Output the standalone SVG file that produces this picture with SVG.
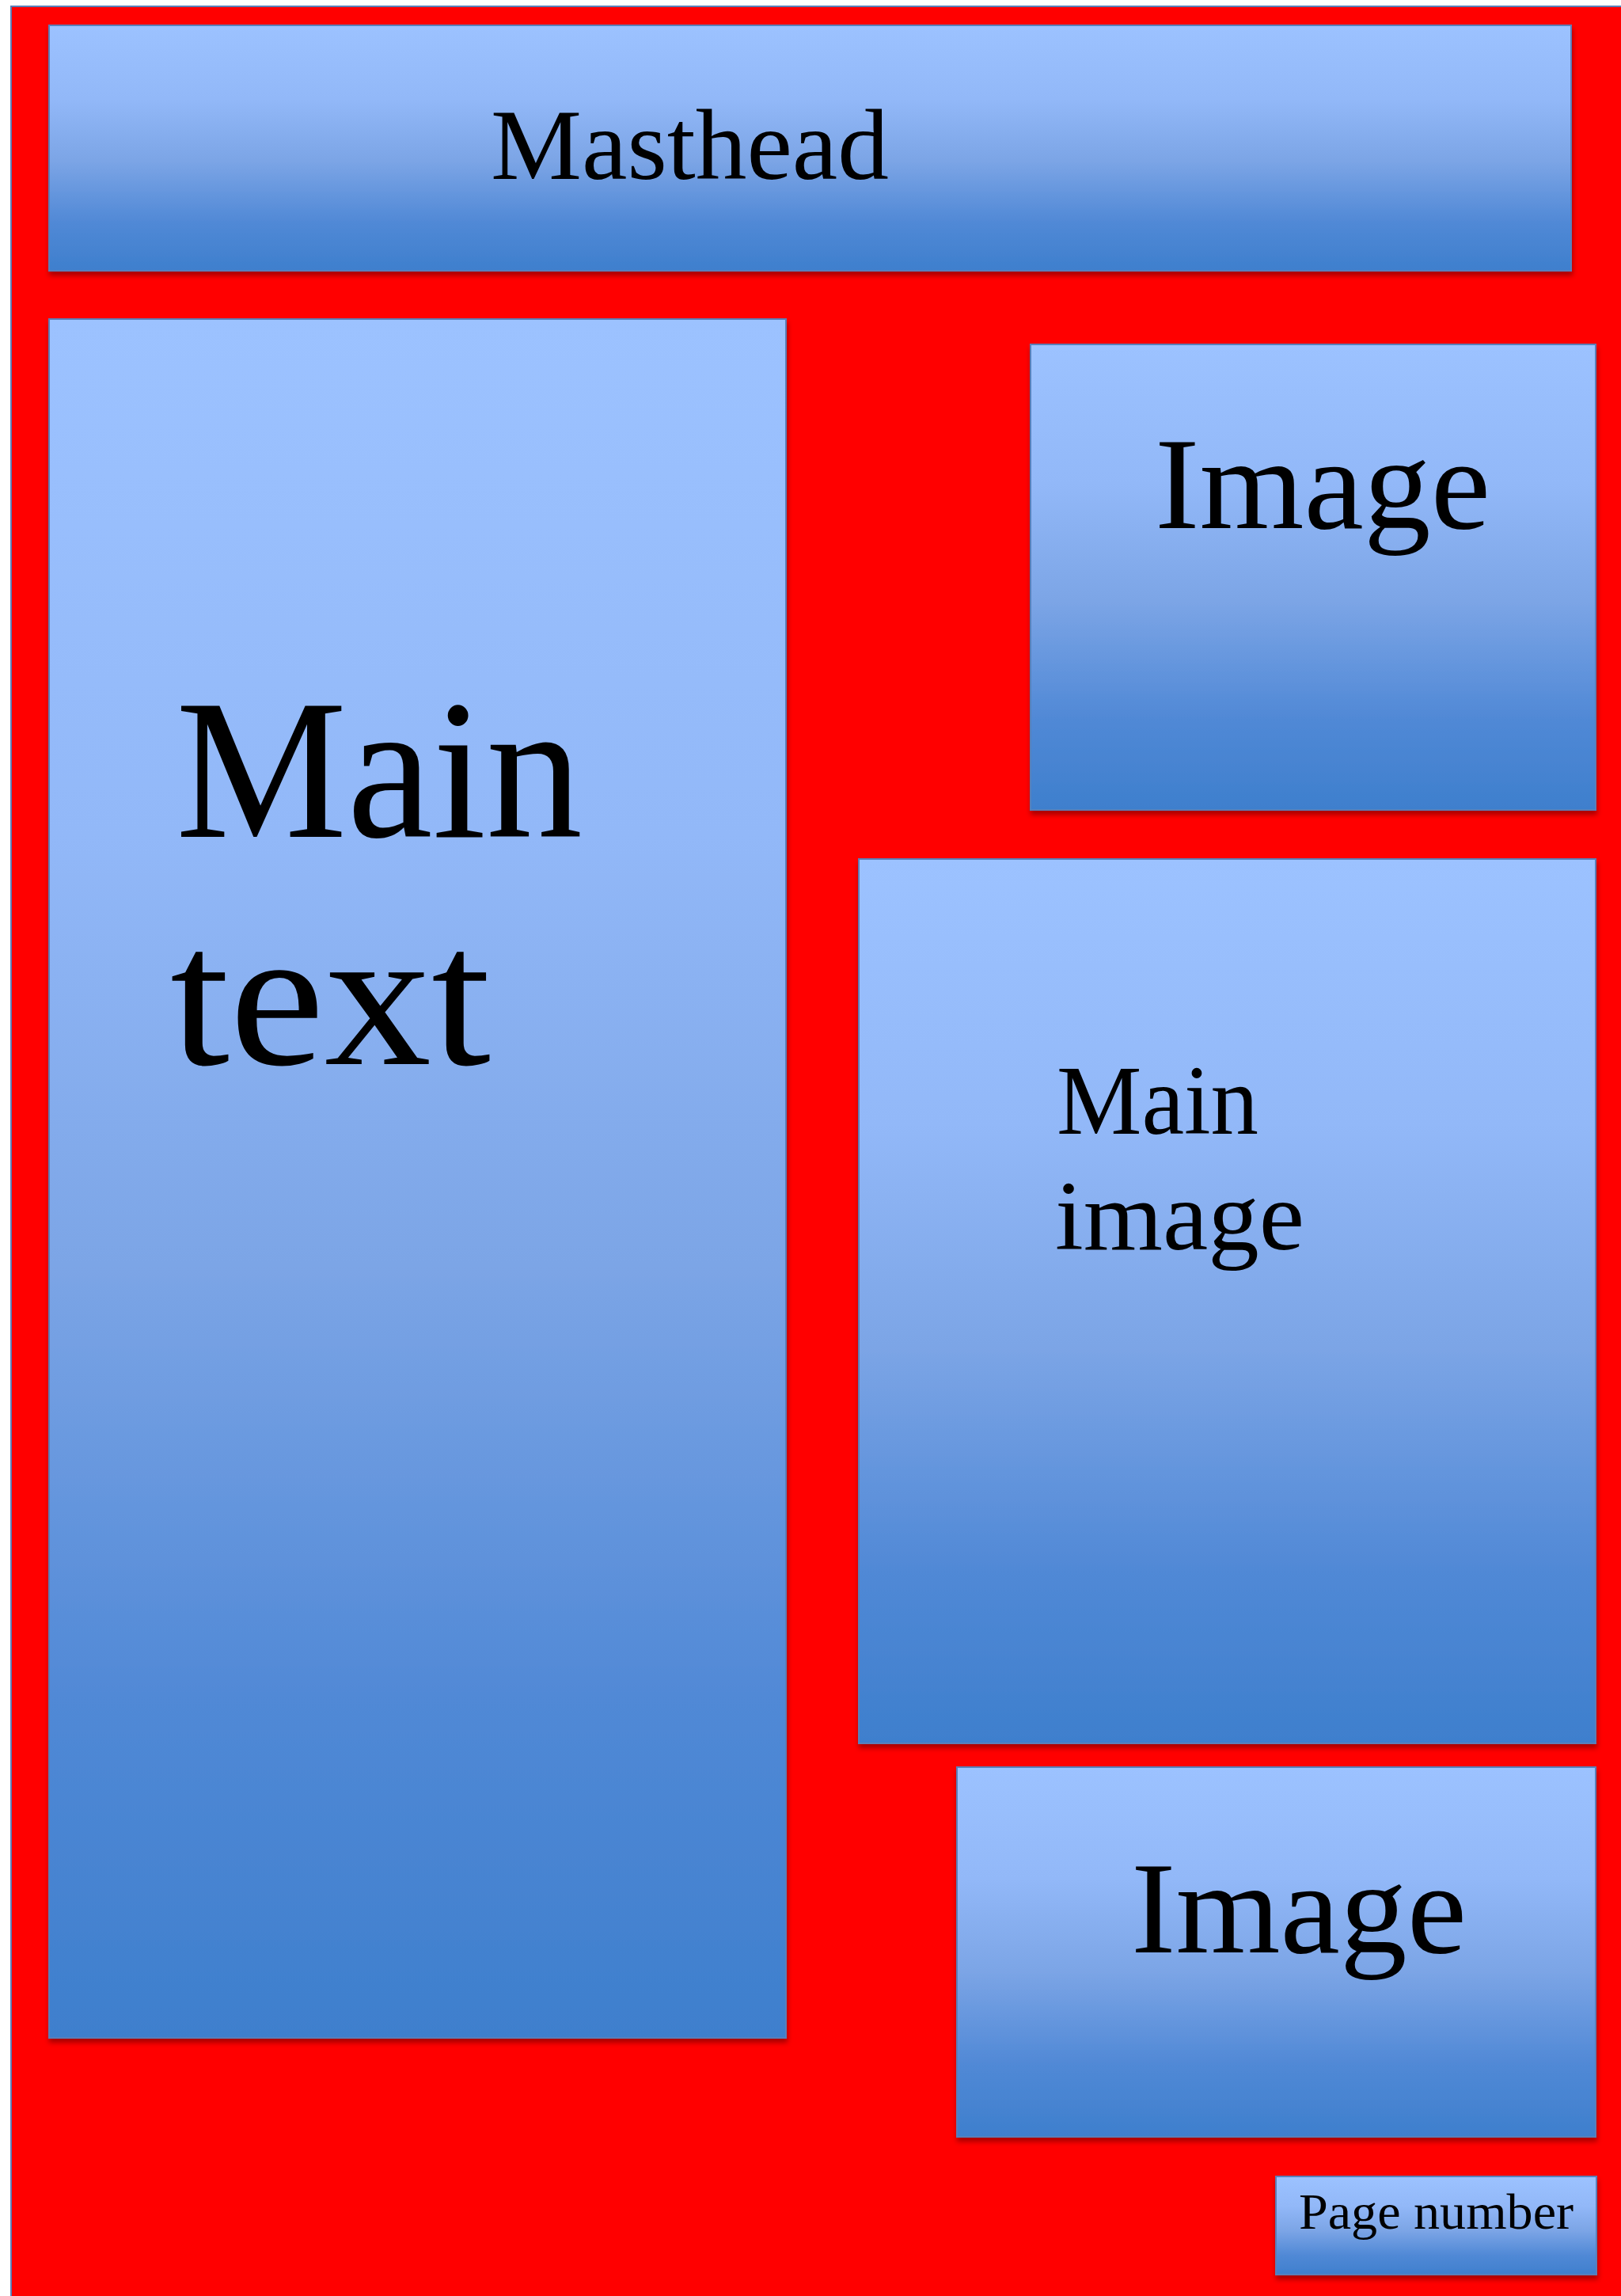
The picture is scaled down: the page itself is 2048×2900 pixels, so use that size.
<svg xmlns="http://www.w3.org/2000/svg" width="2048" height="2900" viewBox="0 0 2048 2900">
<style>
.box{fill:url(#blue);stroke:#5a7fb8;stroke-width:2;filter:url(#sh)}
.lbl{font-family:"Liberation Serif","DejaVu Serif",serif;fill:#000}
</style>
<defs>
<linearGradient id="blue" x1="0" y1="0" x2="0" y2="1">
<stop offset="0" stop-color="#9cc2ff"/>
<stop offset="0.3" stop-color="#92b8f8"/>
<stop offset="0.55" stop-color="#7ca5e6"/>
<stop offset="0.8" stop-color="#5189d6"/>
<stop offset="1" stop-color="#3e7fcd"/>
</linearGradient>
<filter id="sh" x="-5%" y="-5%" width="115%" height="115%">
<feDropShadow dx="1" dy="5" stdDeviation="3" flood-color="#000" flood-opacity="0.35"/>
</filter>
</defs>
<rect x="0" y="0" width="2048" height="2900" fill="#fff"/>
<rect id="page" x="14" y="8" width="2040" height="2900" fill="#ff0000" stroke="#5a7fb8" stroke-width="2"/>
<g id="masthead">
<rect class="box" x="62" y="32" width="1923" height="310"/>
<text class="lbl" x="620" y="226" font-size="126" textLength="503" lengthAdjust="spacingAndGlyphs">Masthead</text>
</g>
<g id="main-text">
<rect class="box" x="62" y="403" width="931" height="2171"/>
<text class="lbl" x="222" y="1057" font-size="252" textLength="514" lengthAdjust="spacingAndGlyphs">Main</text>
<text class="lbl" x="215" y="1344" font-size="252" textLength="405" lengthAdjust="spacingAndGlyphs">text</text>
</g>
<g id="image-top">
<rect class="box" x="1302" y="435" width="714" height="588"/>
<text class="lbl" x="1459" y="667" font-size="166" textLength="424" lengthAdjust="spacingAndGlyphs">Image</text>
</g>
<g id="main-image">
<rect class="box" x="1085" y="1085" width="931" height="1117"/>
<text class="lbl" x="1335" y="1432" font-size="125" textLength="255" lengthAdjust="spacingAndGlyphs">Main</text>
<text class="lbl" x="1333" y="1578" font-size="125" textLength="315" lengthAdjust="spacingAndGlyphs">image</text>
</g>
<g id="image-bottom">
<rect class="box" x="1209" y="2232" width="807" height="467"/>
<text class="lbl" x="1429" y="2466" font-size="166" textLength="424" lengthAdjust="spacingAndGlyphs">Image</text>
</g>
<g id="page-number">
<rect class="box" x="1612" y="2749" width="405" height="124"/>
<text class="lbl" x="1641" y="2815" font-size="63" textLength="347" lengthAdjust="spacingAndGlyphs">Page number</text>
</g>
<g id="connectors"></g>
</svg>
